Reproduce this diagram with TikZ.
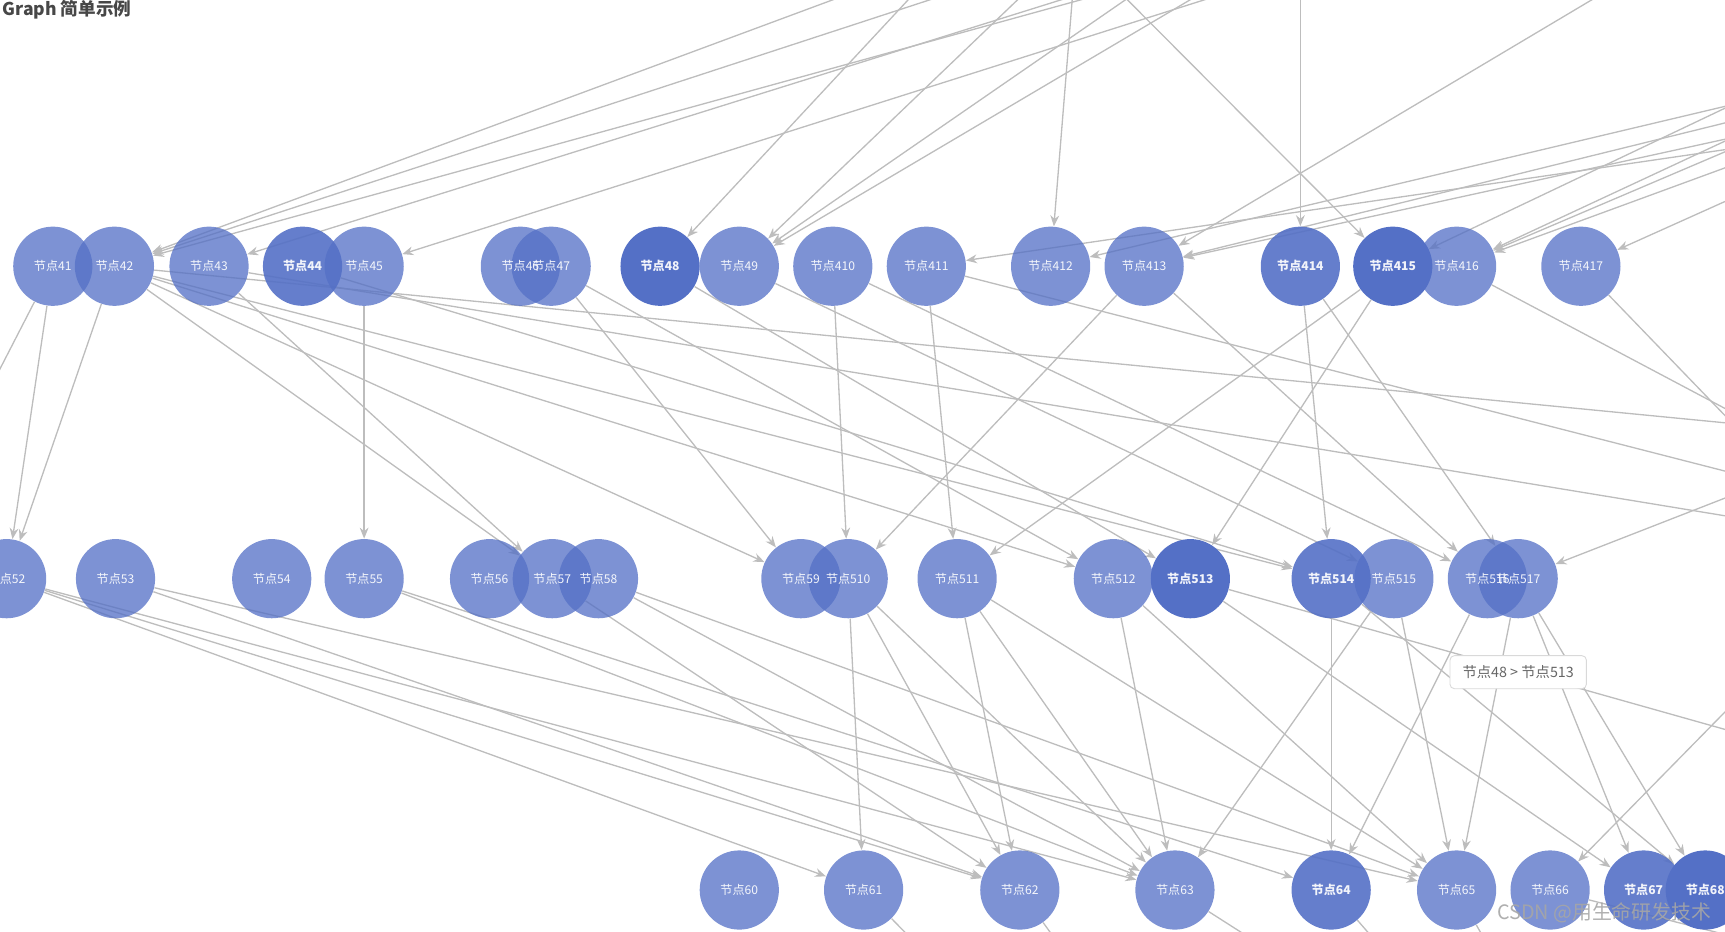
\documentclass[tikz,border=0pt]{standalone}
\usepackage{fontspec}
\setmainfont{Noto Sans CJK SC}
\usetikzlibrary{arrows.meta}
\pgfdeclarelayer{bg}\pgfdeclarelayer{fg}\pgfsetlayers{bg,main,fg}
\definecolor{ndark}{HTML}{5470C6}
\definecolor{edg}{HTML}{BDBDBD}
\tikzset{
 nd/.style={circle,fill=ndark,fill opacity=0.76,minimum size=36pt,inner sep=0pt},
 md/.style={nd,fill opacity=0.9},
 dk/.style={nd,fill opacity=1},
 lb/.style={inner sep=0pt,text=white,text opacity=0.92,font=\fontsize{5.5}{6}\selectfont},
 lbb/.style={lb,font=\fontsize{5.5}{6}\selectfont\bfseries},
 ed/.style={draw=edg,line width=0.6pt,-{Stealth[length=5pt,width=4pt]}},
 eo/.style={draw=edg,line width=0.6pt}
}
\begin{document}
\begin{tikzpicture}[x=0.5pt,y=-0.5pt]
\useasboundingbox (0,0) rectangle (1568,847);
\clip (0,0) rectangle (1568,847);
% row 4
\foreach \n/\x in {41/48,42/104,43/190,45/331,46/473,47/501,49/672,410/757,411/842,412/955,413/1040,416/1324,417/1437}
  \node[nd] (n\n) at (\x,242) {};
\node[md] (n44) at (275,242) {};
\node[dk] (n48) at (600,242) {};
\node[md] (n414) at (1182,242) {};
\node[dk] (n415) at (1266,242) {};
% row 5
\foreach \n/\x in {52/6,53/105,54/247,55/331,56/445,57/502,58/544,59/728,510/771,511/870,512/1012,515/1267,516/1352,517/1380}
  \node[nd] (n\n) at (\x,526) {};
\node[dk] (n513) at (1082,526) {};
\node[md] (n514) at (1210,526) {};
% row 6
\foreach \n/\x in {60/672,61/785,62/927,63/1068,65/1324,66/1409}
  \node[nd] (n\n) at (\x,809) {};
\node[md] (n64) at (1210,809) {};
\node[md] (n67) at (1494,809) {};
\node[dk] (n68) at (1550,809) {};
% labels on top
\begin{pgfonlayer}{fg}
\foreach \n in {41,42,43,45,46,47,49,410,411,412,413,416,417,52,53,54,55,56,57,58,59,510,511,512,515,516,517,60,61,62,63,65,66}
  \node[lb] (l\n) at (n\n) {节点\n};
\foreach \n in {44,48,414,415,513,514,64,67,68}
  \node[lbb] (l\n) at (n\n) {节点\n};
\end{pgfonlayer}
% off-screen coordinates
\foreach \c/\x/\y in {t1/770/-5,t2/860/-5,t3/975/-5,t4/1110/-5,t5/830/-5,t6/930/-5,t7/1030/-5,t8/1090/-5,t9/980/-5,t10/1455/-5,t11/1182/-5,t12/1020/-5,t13/1000/-5,
  r1/1575/95,r2/1575/110,r3/1575/125,r4/1575/135,r5/1575/150,r6/1575/180,r7/1575/385,r8/1575/470,r9/1575/450,r10/1575/665,r11/1575/430,r12/1575/375,r13/1575/640,
  l1/-5/345,b1/830/855,b2/960/855,b3/1140/855,b4/1250/855,b5/1350/855,b6/1590/855,b7/1650/855}
  \coordinate (\c) at (\x,\y);
\begin{pgfonlayer}{bg}
\draw[ed] (t1) -- (n42);
\draw[ed] (t2) -- (n42);
\draw[ed] (t9) -- (n43);
\draw[ed] (t4) -- (n45);
\draw[ed] (t5) -- (n48);
\draw[ed] (t6) -- (n49);
\draw[ed] (t7) -- (n49);
\draw[ed] (t8) -- (n49);
\draw[ed] (t3) -- (n412);
\draw[ed] (t10) -- (n413);
\draw[ed] (t11) -- (n414);
\draw[ed] (t12) -- (n415);
\draw[ed] (t13) -- (n42);
\draw[ed] (r1) -- (n412);
\draw[ed] (r2) -- (n413);
\draw[ed] (r3) -- (n413);
\draw[ed] (r4) -- (n411);
\draw[ed] (r3) -- (n416);
\draw[ed] (r4) -- (n416);
\draw[ed] (r5) -- (n416);
\draw[ed] (r6) -- (n417);
\draw[ed] (r1) -- (n415);
\draw[eo] (n41) -- (l1);
\draw[ed] (n41) -- (n52);
\draw[ed] (n42) -- (n52);
\draw[ed] (n42) -- (n57);
\draw[ed] (n43) -- (n57);
\draw[ed] (n42) -- (n59);
\draw[ed] (n42) -- (n514);
\draw[ed] (n42) -- (n512);
\draw[eo] (n42) -- (r7);
\draw[eo] (n43) -- (r8);
\draw[ed] (n44) -- (n514);
\draw[ed] (n45) -- (n55);
\draw[ed] (n47) -- (n59);
\draw[ed] (n47) -- (n512);
\draw[ed] (n48) -- (n513);
\draw[ed] (n49) -- (n515);
\draw[ed] (n410) -- (n510);
\draw[ed] (n410) -- (n516);
\draw[ed] (n411) -- (n511);
\draw[eo] (n411) -- (r11);
\draw[ed] (n413) -- (n510);
\draw[ed] (n413) -- (n516);
\draw[ed] (n414) -- (n514);
\draw[ed] (n414) -- (n517);
\draw[ed] (n415) -- (n513);
\draw[ed] (n415) -- (n511);
\draw[eo] (n416) -- (r12);
\draw[eo] (n417) -- (r7);
\draw[ed] (r9) -- (n517);
\draw[ed] (n52) -- (n61);
\draw[ed] (n52) -- (n62);
\draw[ed] (n52) -- (n63);
\draw[ed] (n53) -- (n62);
\draw[ed] (n53) -- (n65);
\draw[ed] (n55) -- (n63);
\draw[ed] (n55) -- (n64);
\draw[ed] (n57) -- (n62);
\draw[ed] (n58) -- (n63);
\draw[ed] (n58) -- (n65);
\draw[ed] (n510) -- (n61);
\draw[ed] (n510) -- (n62);
\draw[ed] (n510) -- (n63);
\draw[ed] (n511) -- (n62);
\draw[ed] (n511) -- (n63);
\draw[ed] (n511) -- (n65);
\draw[ed] (n512) -- (n63);
\draw[ed] (n512) -- (n65);
\draw[ed] (n513) -- (n67);
\draw[eo] (n513) -- (r10);
\draw[ed] (n514) -- (n64);
\draw[ed] (n514) -- (n68);
\draw[ed] (n515) -- (n63);
\draw[ed] (n515) -- (n65);
\draw[ed] (n516) -- (n64);
\draw[ed] (n517) -- (n65);
\draw[ed] (n517) -- (n67);
\draw[ed] (n517) -- (n68);
\draw[ed] (r13) -- (n66);
\draw[eo] (n61) -- (b1);
\draw[eo] (n62) -- (b2);
\draw[eo] (n63) -- (b3);
\draw[eo] (n64) -- (b4);
\draw[eo] (n65) -- (b5);
\draw[eo] (n66) -- (b6);
\draw[eo] (n67) -- (b7);
\end{pgfonlayer}
\begin{pgfonlayer}{fg}
\node[anchor=north west,inner sep=0pt,font=\fontsize{8}{9}\selectfont\bfseries,text=black!72] (title) at (2,0) {Graph 简单示例};
\node[draw=black!15,fill=white,rounded corners=2pt,minimum width=62pt,minimum height=15pt,font=\fontsize{6.5}{7}\selectfont,text=black!60] (tip) at (1380,611) {节点48 > 节点513};
\node[font=\fontsize{9}{10}\selectfont,text=black!35,opacity=0.9] (wm) at (1458,830) {CSDN @用生命研发技术};
\end{pgfonlayer}
\end{tikzpicture}
\end{document}
